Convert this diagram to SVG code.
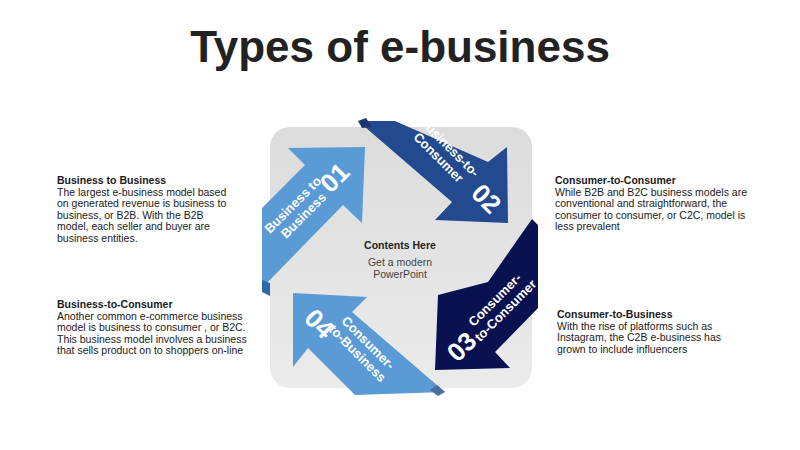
<svg xmlns="http://www.w3.org/2000/svg" width="800" height="450" viewBox="0 0 800 450">
<style>
.t{font-family:"Liberation Sans",Arial,sans-serif;font-size:10.5px;fill:#1a1a1a}
.b{font-weight:bold}
.w{font-family:"Liberation Sans",Arial,sans-serif;font-weight:bold;fill:#fff;text-anchor:middle}
.n{font-size:26px}
.l{font-size:13px}
.light{fill:#5B9BD5}
</style>
<defs><linearGradient id="g" x1="0" y1="0" x2="0" y2="1"><stop offset="0" stop-color="#dcdcdc"/><stop offset="1" stop-color="#ebebeb"/></linearGradient></defs>
<rect width="800" height="450" fill="#fff"/>
<text x="400" y="62" text-anchor="middle" font-family="Liberation Sans,Arial,sans-serif" font-weight="bold" font-size="44" fill="#222">Types of e-business</text>
<rect id="bg" x="270" y="127" width="262" height="261" rx="20" fill="url(#g)"/>
<g id="arrow1">
<polygon points="262,208 305,165 288,148 365,147 362,223 343,205 262,288" class="light"/>
<polygon points="262,280 270,283 270,296 262,292" fill="#2e6aa8"/>
<text class="w n" transform="translate(341,184) rotate(-45)">01</text>
<text class="w l" transform="translate(296,208) rotate(-45)">Business to<tspan x="0" dy="15">Business</tspan></text>
</g>
<g id="arrow2">
<polygon points="358,121 395,121 488,162 507,147 508,223 435,220 452,202" fill="#23498E"/>
<polygon points="358,121 366,118 372,127 362,128" fill="#1a3670"/>
<text class="w n" transform="translate(480,205) rotate(45)">02</text>
<text class="w l" transform="translate(446,150) rotate(45)">Business-to-<tspan x="0" dy="15">Consumer</tspan></text>
</g>
<g id="arrow3">
<polygon points="532,219 538,225 538,308 495,352 510,368 435,370 438,295 488,282" fill="#0A1150"/>
<text class="w n" transform="translate(468,353) rotate(-45)">03</text>
<text class="w l" transform="translate(498,303) rotate(-45)">Consumer-<tspan x="0" dy="15">to-Consumer</tspan></text>
</g>
<g id="arrow4">
<polygon points="293,293 367,297 352,312 445,392 355,395 308,348 293,367" class="light"/>
<polygon points="437,385 445,392 438,396 430,390" fill="#4a6ea0"/>
<text class="w n" transform="translate(313,330) rotate(45)">04</text>
<text class="w l" transform="translate(365,346) rotate(45)">Consumer-<tspan x="0" dy="15">to-Business</tspan></text>
</g>
<g id="center" font-family="Liberation Sans,Arial,sans-serif" text-anchor="middle" font-size="10.5">
<text x="400" y="249" font-weight="bold" fill="#222">Contents Here</text>
<text x="400" y="266" fill="#444">Get a modern</text>
<text x="400" y="278" fill="#444">PowerPoint</text>
</g>
<g id="b2b"><text class="t" x="57" y="184"><tspan class="b">Business to Business</tspan><tspan x="57" dy="11.5">The largest e-business model based</tspan><tspan x="57" dy="11.5">on generated revenue is business to</tspan><tspan x="57" dy="11.5">business, or B2B. With the B2B</tspan><tspan x="57" dy="11.5">model, each seller and buyer are</tspan><tspan x="57" dy="11.5">business entities.</tspan></text></g>
<g id="b2c"><text class="t" x="57" y="308"><tspan class="b">Business-to-Consumer</tspan><tspan x="57" dy="11.5">Another common e-commerce business</tspan><tspan x="57" dy="11.5">model is business to consumer , or B2C.</tspan><tspan x="57" dy="11.5">This business model involves a business</tspan><tspan x="57" dy="11.5">that sells product on to shoppers on-line</tspan></text></g>
<g id="c2c"><text class="t" x="555" y="184"><tspan class="b">Consumer-to-Consumer</tspan><tspan x="555" dy="11.5">While B2B and B2C business models are</tspan><tspan x="555" dy="11.5">conventional and straightforward, the</tspan><tspan x="555" dy="11.5">consumer to consumer, or C2C, model is</tspan><tspan x="555" dy="11.5">less prevalent</tspan></text></g>
<g id="c2b"><text class="t" x="557" y="318"><tspan class="b">Consumer-to-Business</tspan><tspan x="557" dy="11.5">With the rise of platforms such as</tspan><tspan x="557" dy="11.5">Instagram, the C2B e-business has</tspan><tspan x="557" dy="11.5">grown to include influencers</tspan></text></g>
</svg>
